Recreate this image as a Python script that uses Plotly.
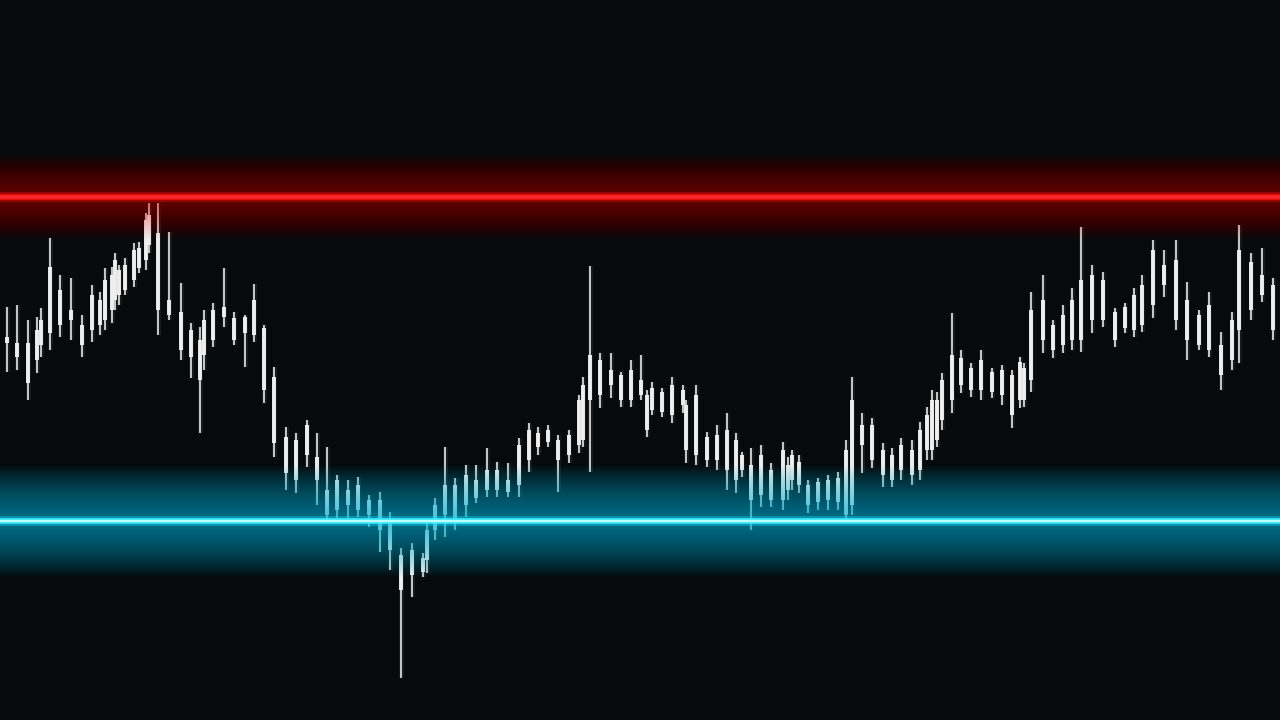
import plotly.graph_objects as go

# ---- data (price units) ----
t = [7,17,28,37,41,50,60,71,82,92,100,105,112,115,119,125,134,139,146,149,
     158,169,181,191,200,204,213,224,234,245,254,264,274,286,296,307,317,327,337,348,
     358,369,380,390,401,412,423,427,435,445,455,466,476,487,497,508,519,529,538,548,
     558,569,579,583,590,600,611,621,631,641,647,652,662,672,683,686,696,707,717,727,
     736,742,751,761,771,783,788,792,799,808,818,828,838,846,852,862,872,883,892,901,
     912,920,927,932,937,942,952,961,971,981,992,1002,1012,1020,1024,1031,1043,1053,1063,1072,
     1081,1092,1103,1115,1125,1134,1142,1153,1164,1176,1187,1199,1209,1221,1232,1239,1251,1262,1273]

high = [413,415,400,403,412,482,445,442,405,435,428,452,453,467,455,462,477,478,507,517,
        517,488,437,397,393,410,417,452,408,405,436,395,353,293,287,300,287,273,245,240,
        243,225,228,208,172,177,167,197,222,273,242,255,255,272,258,257,282,297,293,295,
        285,290,325,343,454,367,367,348,360,365,330,338,332,343,335,320,335,288,295,307,
        287,268,272,275,257,278,263,270,265,240,242,245,248,280,343,307,302,277,272,282,
        280,298,313,330,328,347,407,370,357,370,352,355,350,363,357,428,445,400,415,432,
        493,455,448,412,417,432,445,480,470,480,438,410,428,388,408,495,467,472,442]

low = [348,350,320,347,363,370,383,380,363,378,385,390,397,410,415,425,433,447,450,467,
       385,400,360,342,287,350,373,393,375,353,378,317,263,230,227,253,215,200,202,202,
       203,193,168,150,42,123,143,147,180,183,190,203,217,223,223,223,223,248,265,273,
       228,257,267,273,248,312,322,313,313,320,283,305,303,297,307,257,255,253,250,230,
       227,243,190,213,213,210,220,230,227,207,210,210,210,200,205,247,252,233,233,240,
       235,240,260,260,273,290,307,327,323,320,322,315,292,312,313,328,367,362,367,370,
       368,387,393,373,387,383,388,402,423,390,360,370,363,330,350,357,400,418,380]

open_ = [377,377,377,360,375,387,430,400,395,390,395,400,410,420,450,430,440,452,460,475,
         487,405,408,390,380,365,380,403,402,403,385,392,343,283,280,265,263,230,240,230,
         235,220,220,200,165,145,162,160,190,205,200,215,222,230,230,228,235,260,273,278,
         280,265,275,280,320,325,335,320,320,340,325,310,328,305,315,315,325,283,285,290,
         280,265,255,265,250,270,255,265,258,235,218,240,218,270,215,275,260,270,240,250,
         245,250,270,270,280,300,320,362,352,330,348,325,345,320,352,340,380,395,375,380,
         380,445,400,408,392,390,395,415,455,400,420,405,370,375,360,390,458,445,390]

close = [383,363,337,390,400,453,395,410,375,425,420,440,445,460,425,455,470,472,500,505,
         410,420,370,363,340,400,410,413,380,387,420,330,277,247,240,295,240,205,210,215,
         210,205,190,170,130,170,148,190,215,235,235,245,240,250,250,240,275,290,287,290,
         260,285,320,335,365,360,350,345,350,325,290,332,308,335,330,270,265,260,260,250,
         240,250,220,225,220,220,230,240,235,215,238,220,242,205,320,295,295,245,265,275,
         270,290,305,320,320,340,365,335,330,360,328,350,305,358,320,410,420,370,405,420,
         440,400,440,380,413,425,435,470,435,460,380,375,415,345,400,470,410,425,435]

support_level = 199
resistance_level = 523

assert len(t) == len(high) == len(low) == len(open_) == len(close)

BG = "#07090b"
fig = go.Figure()

def hline(level, width, color):
    fig.add_trace(go.Scatter(
        x=[0, 1280], y=[level, level], mode="lines",
        line=dict(color=color, width=width), hoverinfo="skip", showlegend=False))

def soft_glow(level, rgb, w_min, w_max, step, alpha):
    w = w_max
    while w >= w_min:
        hline(level, w, "rgba(%d,%d,%d,%.3f)" % (rgb[0], rgb[1], rgb[2], alpha))
        w -= step

# smooth glows under candles
soft_glow(resistance_level, (230, 0, 0), 6, 84, 3, 0.020)
soft_glow(support_level, (0, 165, 205), 6, 112, 3, 0.028)

# candles built from the OHLC arrays
wick_h = [h - l for h, l in zip(high, low)]
body_base = [min(o, c) for o, c in zip(open_, close)]
body_h = [max(abs(c - o), 2) for o, c in zip(open_, close)]

fig.add_trace(go.Bar(x=t, y=wick_h, base=low, width=5,
                     marker=dict(color="rgba(220,220,220,0.08)", line=dict(width=0)),
                     hoverinfo="skip", showlegend=False))
fig.add_trace(go.Bar(x=t, y=wick_h, base=low, width=1.8,
                     marker=dict(color="rgba(220,220,220,0.88)", line=dict(width=0)),
                     hoverinfo="skip", showlegend=False))
fig.add_trace(go.Bar(x=t, y=body_h, base=body_base, width=3.5,
                     marker=dict(color="rgba(240,240,240,0.95)", line=dict(width=0)),
                     hoverinfo="skip", showlegend=False))

# bright cores over candles
hline(resistance_level, 10, "rgba(255,15,15,0.35)")
hline(resistance_level, 6, "rgba(255,20,20,0.7)")
hline(resistance_level, 3, "#ff2a2a")
hline(support_level, 10, "rgba(30,220,250,0.35)")
hline(support_level, 6, "rgba(50,235,255,0.85)")
hline(support_level, 2.5, "rgba(190,255,255,1)")

fig.update_layout(
    width=1280, height=720,
    margin=dict(l=0, r=0, t=0, b=0),
    paper_bgcolor=BG, plot_bgcolor=BG,
    barmode="overlay", bargap=0,
    showlegend=False, hovermode=False,
    xaxis=dict(range=[0, 1280], visible=False, fixedrange=True),
    yaxis=dict(range=[0, 720], visible=False, fixedrange=True),
)

fig.write_html(
    "out.html",
    config={"displayModeBar": False},
    post_script="document.body.style.margin='0';document.body.style.overflow='hidden';"
                "document.body.style.background='%s';" % BG,
)
